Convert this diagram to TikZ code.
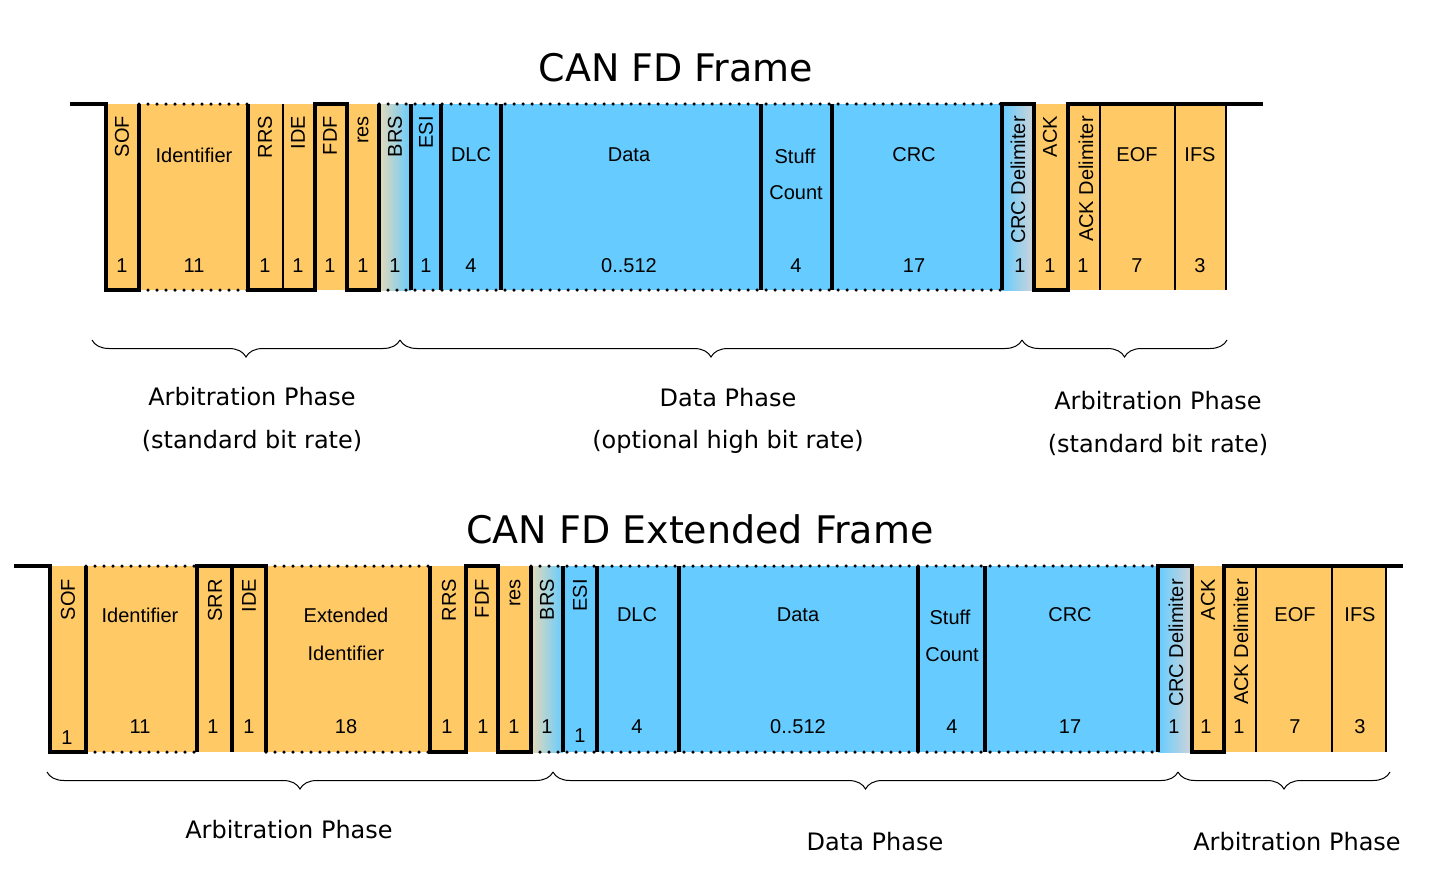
\documentclass[tikz,border=0pt]{standalone}
\usepackage{fontspec}
\setmainfont{Liberation Sans}
\newfontfamily\vfont{DejaVu Sans}
\usetikzlibrary{decorations.pathreplacing}
\definecolor{org}{HTML}{FFC966}
\definecolor{blu}{HTML}{66CCFF}
\definecolor{beig}{HTML}{E6D9B8}
\definecolor{gry}{HTML}{D0D4D8}
\begin{document}
\begin{tikzpicture}[x=1pt,y=-1pt,
  thick line/.style={line width=4pt,line join=miter},
  thin line/.style={line width=1.2pt},
  dots/.style={line width=3.5pt,line cap=round,dash pattern=on 0pt off 9pt},
  lab/.style={font=\fontsize{20}{22}\selectfont,inner sep=0pt},
  rlab/.style={lab,rotate=90,anchor=east},
  title/.style={font=\vfont\fontsize{38}{40}\selectfont,inner sep=0pt},
  phase/.style={font=\vfont\fontsize{24}{26}\selectfont,inner sep=0pt},
  br/.style={decorate,decoration={brace,mirror,amplitude=17pt},line width=1pt}]
\useasboundingbox (0,0) rectangle (1440,884);
\fill[white] (0,0) rectangle (1440,884);

% ================= TOP FRAME =================
\node[title] (t1) at (676,68) {CAN FD Frame};
\fill[org] (106,104) rectangle (379,290);
\shade[left color=beig,right color=blu] (379,104) rectangle (411,290);
\fill[blu] (411,104) rectangle (1002,290);
\shade[left color=blu,right color=gry] (1002,104) rectangle (1034,290);
\fill[org] (1034,104) rectangle (1226,290);

\draw[dots] (139,104) -- (248,104) (139,290) -- (248,290);
\draw[dots] (379,104) -- (1002,104) (379,290) -- (1002,290);
\draw[thick line] (70,104) -- (106,104) -- (106,290) -- (139,290) -- (139,104);
\draw[thick line] (248,104) -- (248,290) -- (315,290) -- (315,104) -- (347,104) -- (347,290) -- (379,290) -- (379,104);
\foreach \x in {411,441,501,761,832} \draw[thick line] (\x,104) -- (\x,290);
\draw[thick line] (1002,290) -- (1002,104) -- (1034,104) -- (1034,290) -- (1068,290) -- (1068,104) -- (1263,104);
\foreach \x in {283,1100,1175,1226} \draw[thin line] (\x,104) -- (\x,290);

\foreach \x/\t in {122/SOF,265/RRS,298/IDE,330/FDF,363/res,395/BRS,426/ESI,1018/CRC Delimiter,1050/ACK,1086/ACK Delimiter}
  \node[rlab] at (\x,116) {\t};
\foreach \x/\t in {194/Identifier,471/DLC,629/Data,914/CRC,1137/EOF,1200/IFS}
  \node[lab] at (\x,155) {\t};
\node[lab] at (795,156) {Stuff};
\node[lab] at (796,193) {Count};
\foreach \x/\t in {122/1,194/11,265/1,298/1,330/1,363/1,395/1,426/1,471/4,629/0..512,796/4,914/17 / 21,1020/1,1050/1,1083/1,1137/7,1200/3}
  \node[lab] at (\x,266) {\t};

\draw[br] (92,340) -- (400,340);
\draw[br] (400,340) -- (1022,340);
\draw[br] (1022,340) -- (1227,340);
\node[phase] at (252,397) {Arbitration Phase};
\node[phase] at (252,441) {(standard bit rate)};
\node[phase] at (728,398) {Data Phase};
\node[phase] at (728,442) {(optional high bit rate)};
\node[phase] at (1158,401) {Arbitration Phase};
\node[phase] at (1158,445) {(standard bit rate)};

% ================= BOTTOM FRAME =================
\node[title] (t2) at (700,529) {CAN FD Extended Frame};
\fill[org] (50,566) rectangle (531,752);
\shade[left color=beig,right color=blu] (531,566) rectangle (563,752);
\fill[blu] (563,566) rectangle (1158,752);
\shade[left color=blu,right color=gry] (1158,566) rectangle (1192,752);
\fill[org] (1192,566) rectangle (1386,752);

\draw[dots] (86,566) -- (197,566) (86,752) -- (197,752);
\draw[dots] (266,566) -- (430,566) (266,752) -- (430,752);
\draw[dots] (531,566) -- (1158,566) (531,752) -- (1158,752);
\draw[thick line] (14,566) -- (50,566) -- (50,752) -- (86,752) -- (86,566);
\draw[thick line] (197,752) -- (197,566) -- (266,566) -- (266,752);
\draw[thick line] (232,566) -- (232,752);
\draw[thick line] (430,566) -- (430,752) -- (466,752) -- (466,566) -- (498,566) -- (498,752) -- (531,752) -- (531,566);
\foreach \x in {563,597,679,918,985} \draw[thick line] (\x,566) -- (\x,752);
\draw[thick line] (1158,752) -- (1158,566) -- (1192,566) -- (1192,752) -- (1224,752) -- (1224,566) -- (1403,566);
\foreach \x in {1256,1332,1386} \draw[thin line] (\x,566) -- (\x,752);

\foreach \x/\t in {68/SOF,215/SRR,249/IDE,449/RRS,482/FDF,515/res,547/BRS,580/ESI,1176/CRC Delimiter,1208/ACK,1241/ACK Delimiter}
  \node[rlab] at (\x,579) {\t};
\foreach \x/\t in {140/Identifier,637/DLC,798/Data,1070/CRC,1295/EOF,1360/IFS}
  \node[lab] at (\x,615) {\t};
\node[lab] at (346,615) {Extended};
\node[lab] at (346,653) {Identifier};
\node[lab] at (950,617) {Stuff};
\node[lab] at (952,655) {Count};
\foreach \x/\t in {140/11,213/1,249/1,346/18,447/1,483/1,514/1,547/1,637/4,798/0..512,952/4,1070/17 / 21,1174/1,1206/1,1239/1,1295/7,1360/3}
  \node[lab] at (\x,727) {\t};
\node[lab] at (67,738) {1};
\node[lab] at (580,736) {1};

\draw[br] (47,772) -- (553,772);
\draw[br] (553,772) -- (1178,772);
\draw[br] (1178,772) -- (1390,772);
\node[phase] at (289,830) {Arbitration Phase};
\node[phase] at (875,842) {Data Phase};
\node[phase] at (1297,842) {Arbitration Phase};
\end{tikzpicture}
\end{document}
